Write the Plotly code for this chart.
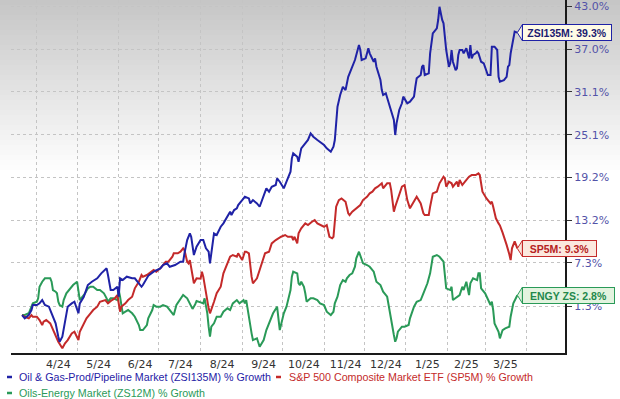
import pandas as pd
import plotly.graph_objects as go

# ---------------- data ----------------
START = "2024-03-21"  # day 0 of every series

zsi_days = [0, 2, 5, 7, 8, 11, 13, 15, 17, 20, 22, 25, 27, 28, 30, 32, 34, 37, 39, 42, 43, 46, 49, 52, 56, 59,
            63, 64, 66, 68, 71, 72, 73, 75, 78, 82, 84, 87, 89, 90, 94, 98, 100, 103, 105, 108, 110, 114, 118,
            120, 121, 123, 125, 126, 128, 130, 133, 135, 137, 139, 140, 141, 143, 145, 148, 150, 153, 155, 156,
            158, 160, 161, 164, 166, 169, 170, 172, 175, 177, 180, 182, 184, 186, 189, 190, 192, 195, 197, 200,
            201, 202, 205, 206, 208, 211, 213, 215, 217, 220, 222, 225, 227, 230, 232, 233, 235, 237, 239, 241,
            243, 246, 248, 251, 252, 253, 256, 258, 259, 262, 263, 264, 267, 268, 269, 271, 273, 275, 277, 278,
            279, 281, 283, 284, 287, 289, 292, 293, 294, 297, 298, 299, 300, 303, 304, 306, 309, 310, 311, 313,
            314, 316, 318, 319, 320, 321, 323, 324, 325, 326, 328, 329, 331, 333, 334, 335, 336, 338, 339, 340,
            342, 344, 345, 346, 347, 349, 350, 352, 354, 355, 356, 359, 361, 362, 363, 364, 366, 367, 369]
zsi_vals = [0.05, -0.41, 0.05, 0.74, 1.44, 1.44, 1.67, 2.13, 1.44, 1.21, 0.29, -1.10, -2.97, -3.66, -2.97,
            -0.65, 1.21, 1.67, 1.90, 0.29, 1.67, 2.59, 4.22, 4.68, 5.15, 5.84, 6.54, 5.61, 3.52, 3.52, 3.98,
            2.59, 5.15, 4.91, 5.38, 5.15, 5.15, 4.45, 3.98, 4.22, 5.50, 6.07, 6.30, 6.54, 7.00, 7.24, 6.76,
            7.00, 7.46, 7.46, 8.63, 10.47, 11.40, 10.93, 8.39, 9.54, 10.47, 10.47, 9.32, 8.85, 7.24, 8.85,
            11.40, 11.17, 12.32, 12.79, 13.71, 14.41, 13.95, 14.64, 14.88, 15.34, 16.03, 16.49, 16.26, 15.57,
            16.03, 15.57, 15.10, 16.73, 17.66, 17.19, 17.88, 18.12, 19.05, 18.58, 17.66, 18.58, 19.97, 21.83,
            22.52, 22.05, 21.36, 23.22, 23.91, 24.38, 25.30, 24.84, 24.38, 24.14, 23.68, 23.22, 22.75, 23.44,
            24.38, 29.00, 30.63, 31.78, 31.32, 33.17, 34.56, 35.50, 37.58, 36.89, 35.50, 35.73, 37.12, 36.43,
            35.26, 35.73, 34.56, 32.71, 31.32, 30.63, 30.87, 29.70, 28.55, 27.16, 25.07, 26.70, 28.55, 29.48,
            30.41, 29.48, 29.70, 30.41, 31.78, 32.96, 33.41, 34.56, 34.80, 33.41, 33.65, 36.43, 39.21, 39.90,
            41.06, 42.90, 41.06, 40.60, 36.89, 34.56, 35.03, 36.89, 35.26, 34.10, 34.33, 36.19, 36.89, 36.89,
            36.43, 37.12, 35.73, 37.58, 35.73, 36.19, 36.43, 36.66, 36.43, 35.26, 35.03, 34.56, 34.10, 33.41,
            33.41, 37.35, 37.35, 36.89, 33.17, 32.48, 32.71, 33.17, 34.56, 34.80, 36.43, 38.28, 39.44, 39.30]

sp5_days = [0, 2, 5, 7, 8, 11, 13, 15, 16, 18, 21, 23, 25, 27, 30, 32, 34, 37, 39, 42, 43, 46, 48, 51, 53, 56,
            58, 62, 64, 67, 69, 71, 73, 74, 77, 79, 82, 84, 87, 89, 90, 93, 95, 98, 100, 103, 105, 107, 109,
            112, 113, 115, 116, 118, 120, 121, 122, 123, 124, 125, 128, 130, 133, 134, 135, 136, 138, 139, 140,
            141, 143, 145, 148, 150, 153, 155, 157, 160, 161, 164, 166, 167, 169, 170, 171, 172, 175, 177, 180,
            181, 184, 186, 189, 191, 193, 196, 198, 201, 202, 203, 205, 206, 208, 211, 213, 216, 218, 220, 222,
            225, 227, 229, 231, 232, 234, 236, 238, 241, 243, 244, 246, 249, 252, 254, 257, 259, 261, 263, 265,
            268, 269, 272, 274, 275, 277, 278, 280, 283, 285, 287, 289, 292, 294, 297, 299, 300, 303, 304, 306,
            309, 311, 314, 315, 316, 318, 320, 321, 324, 325, 326, 328, 330, 333, 335, 338, 340, 341, 343, 346,
            349, 350, 351, 353, 355, 356, 358, 360, 361, 363, 364, 365, 366, 367, 369]
sp5_vals = [0.05, -0.19, -0.41, 0.05, -0.19, -0.19, -0.65, -1.34, -0.88, -0.65, -1.11, -2.04, -2.73, -3.66,
            -4.58, -3.89, -3.43, -2.50, -2.27, -3.43, -2.27, -1.11, -0.41, 0.29, 0.74, 1.21, 1.90, 2.13, 1.67,
            2.13, 2.36, 2.83, 0.51, 1.21, 1.67, 2.13, 2.59, 3.76, 4.68, 5.61, 5.38, 5.61, 5.84, 6.30, 6.07,
            6.54, 7.00, 7.46, 7.46, 8.15, 8.62, 8.62, 8.62, 8.85, 9.32, 9.08, 8.15, 7.46, 7.24, 7.69, 4.46,
            5.15, 5.10, 6.07, 5.38, 4.22, 2.13, 0.98, 0.28, 0.74, 1.90, 3.07, 3.98, 5.84, 7.24, 8.15, 8.39,
            8.15, 8.62, 7.69, 8.85, 8.85, 8.62, 6.76, 5.38, 4.46, 5.15, 6.30, 7.93, 8.62, 8.85, 10.00, 10.47,
            10.71, 10.93, 11.17, 10.93, 10.93, 10.47, 10.93, 10.00, 11.40, 12.10, 12.79, 12.56, 13.02, 13.25,
            12.79, 12.56, 12.32, 12.56, 10.93, 10.71, 10.93, 15.10, 16.03, 16.26, 15.80, 14.19, 13.95, 14.41,
            14.88, 15.34, 16.03, 16.49, 16.96, 17.19, 17.66, 17.89, 18.36, 17.66, 18.36, 18.36, 17.42, 14.41,
            15.10, 16.26, 17.89, 18.12, 16.03, 14.88, 15.80, 16.49, 15.57, 14.19, 13.95, 13.95, 15.10, 16.96,
            17.19, 18.36, 19.28, 19.05, 17.89, 18.58, 18.36, 17.89, 18.58, 17.89, 18.81, 18.12, 18.58, 19.28,
            19.51, 19.51, 19.75, 19.51, 17.19, 16.26, 15.57, 15.80, 15.10, 13.49, 12.79, 12.50, 11.50, 10.50,
            9.80, 8.50, 7.69, 9.32, 10.00, 10.30, 9.30]

engy_days = [0, 2, 5, 6, 7, 8, 11, 12, 13, 15, 17, 21, 22, 23, 25, 26, 27, 28, 30, 31, 33, 36, 38, 41, 42, 43,
             44, 47, 49, 51, 53, 56, 58, 61, 63, 64, 66, 68, 71, 72, 73, 74, 75, 77, 79, 82, 84, 87, 88, 90, 93,
             94, 97, 98, 100, 103, 105, 108, 110, 113, 115, 118, 120, 123, 125, 127, 129, 130, 133, 135, 136,
             138, 139, 140, 141, 143, 145, 148, 150, 153, 155, 157, 160, 162, 165, 166, 167, 169, 170, 171, 172,
             175, 177, 180, 182, 185, 187, 190, 191, 192, 195, 197, 200, 201, 202, 205, 206, 207, 208, 210, 211,
             212, 215, 217, 220, 222, 225, 227, 230, 232, 233, 235, 237, 239, 241, 242, 244, 246, 248, 249, 251,
             252, 254, 257, 259, 262, 264, 267, 269, 272, 274, 277, 278, 279, 280, 283, 285, 288, 289, 292, 294,
             297, 299, 302, 304, 306, 309, 311, 314, 316, 319, 320, 321, 324, 326, 328, 329, 331, 333, 334, 336,
             339, 340, 341, 342, 345, 347, 349, 350, 351, 352, 355, 356, 358, 360, 363, 364, 366, 369]
engy_vals = [0.05, 0.05, 0.29, 0.74, 1.21, 1.67, 1.90, 2.37, 3.98, 4.68, 5.15, 5.15, 4.68, 3.52, 3.29, 3.07,
             1.90, 1.44, 1.21, 2.13, 3.07, 3.76, 4.22, 4.68, 3.52, 2.13, 2.37, 3.07, 3.76, 3.98, 3.98, 3.52,
             3.52, 3.07, 2.37, 1.90, 2.37, 2.37, 2.13, 3.52, 2.59, 1.21, 0.29, 0.51, 0.74, 0.29, -0.19, -1.34,
             -2.04, -2.04, -1.34, -0.41, 0.74, 1.44, 1.21, 1.21, 1.44, 1.21, 0.74, 0.05, 1.44, 2.37, 2.83, 2.37,
             1.67, 0.90, 1.55, 2.00, 1.80, 1.67, 2.37, 0.29, -1.57, -2.97, -1.57, -1.10, -0.19, -0.19, 0.51,
             0.98, 0.74, 1.67, 2.13, 1.67, 2.13, 1.67, 2.13, -0.19, -1.80, -2.50, -3.43, -3.19, -4.36, -3.43,
             -2.04, -0.65, 0.29, 1.21, -0.19, -2.04, 0.29, 1.21, 3.52, 5.38, 6.07, 5.84, 4.46, 4.22, 4.68, 3.98,
             3.07, 1.90, 2.37, 2.37, 2.13, 1.67, 1.44, 0.51, 0.05, 0.51, 1.67, 2.59, 4.22, 4.91, 4.68, 5.15,
             5.61, 5.84, 6.76, 7.93, 8.85, 8.39, 7.24, 7.00, 6.76, 6.07, 4.68, 4.22, 3.29, 2.59, 0.29, -2.73,
             -3.66, -3.19, -2.27, -1.57, -1.57, -1.34, -0.41, 1.21, 1.90, 2.13, 3.07, 4.46, 5.84, 8.15, 8.39,
             8.15, 7.46, 3.76, 3.52, 3.98, 2.13, 2.59, 2.83, 3.98, 3.52, 4.68, 2.83, 4.46, 5.15, 4.91, 5.84,
             5.84, 3.76, 3.07, 2.13, 1.44, 1.90, 0.74, -1.11, -2.27, -3.19, -2.04, -1.80, -1.57, -0.19, 1.67,
             2.80]

y_ticks = [43.0, 37.0, 31.1, 25.1, 19.2, 13.2, 7.3, 1.3]
month_labels = ["4/24", "5/24", "6/24", "7/24", "8/24", "9/24", "10/24", "11/24", "12/24", "1/25", "2/25", "3/25"]
label_dates = ["2024-04-17", "2024-05-17", "2024-06-17", "2024-07-17", "2024-08-17", "2024-09-17",
               "2024-10-17", "2024-11-17", "2024-12-17", "2025-01-17", "2025-02-15", "2025-03-16"]
grid_dates = ["2024-04-01", "2024-05-01", "2024-06-01", "2024-07-01", "2024-08-01", "2024-09-01",
              "2024-10-01", "2024-11-01", "2024-12-01", "2025-01-01", "2025-02-01", "2025-03-01", "2025-04-01"]
x_range = ["2024-03-12 18:00", "2025-04-29 12:00"]
y_range = [-5.23, 43.84]

series = [
    dict(days=engy_days, vals=engy_vals, tag="ENGY ZS", color="#2a9a58", text="#23884c",
         fill="#e3f3df", legend="Oils-Energy Market (ZS12M) % Growth", tagw=89),
    dict(days=sp5_days, vals=sp5_vals, tag="SP5M", color="#c42a2a", text="#b52222",
         fill="#fbe8de", legend="S&P 500 Composite Market ETF (SP5M) % Growth", tagw=71),
    dict(days=zsi_days, vals=zsi_vals, tag="ZSI135M", color="#1f22a6", text="#1a1a70",
         fill="#fffbe6", legend="Oil & Gas-Prod/Pipeline Market (ZSI135M) % Growth", tagw=86),
]

# ---------------- layout geometry ----------------
W, H = 620, 399
L, R, T, B = 11, 55, 0, 46
PW, PH = W - L - R, H - T - B


def px_x(px):
    return (px - L) / PW


def px_y(py):
    return (T + PH - py) / PH


def to_dates(days):
    return pd.Timestamp(START) + pd.to_timedelta(days, unit="D")


fig = go.Figure()
shapes = []
annotations = []

# background gradient (grey at top fading to white)
steps = 34
for i in range(steps):
    p0 = i * 5
    p1 = p0 + 5
    g = int(round(198 + (255 - 198) * (i / steps)))
    shapes.append(dict(type="rect", xref="paper", yref="paper", x0=-0.05, x1=1.2,
                       y0=px_y(p1), y1=px_y(p0), fillcolor=f"rgb({g},{g},{g})",
                       line=dict(width=0), layer="below"))

for s in series:
    d = to_dates(s["days"])
    fig.add_trace(go.Scatter(x=d, y=s["vals"], mode="lines", showlegend=False,
                             line=dict(color=s["color"], width=2), hoverinfo="skip"))
    last_d = d[-1].strftime("%Y-%m-%d %H:%M")
    last_v = s["vals"][-1]
    # pointed tip of the tag
    shapes.append(dict(type="path", xref="x", yref="y", xsizemode="pixel", ysizemode="pixel",
                       xanchor=last_d, yanchor=last_v, path="M0,0 L5,8 L5,-8 Z",
                       fillcolor=s["fill"], line=dict(color=s["color"], width=1), layer="above"))
    annotations.append(dict(x=last_d, y=last_v, xref="x", yref="y", xanchor="left", yanchor="middle",
                            xshift=5, showarrow=False, text=f"{s['tag']}: {last_v:.1f}%",
                            font=dict(family="Liberation Sans", size=10.5, color=s["text"], weight="bold"),
                            bgcolor=s["fill"], bordercolor=s["color"], borderwidth=1, borderpad=1,
                            width=s["tagw"], height=13, align="center"))

# legend drawn as text
legend_items = [
    (series[2], 7, 17, 377),
    (series[1], 276, 287, 377),
    (series[0], 7, 17, 393),
]
for s, dash_x, text_x, row_y in legend_items:
    shapes.append(dict(type="line", xref="paper", yref="paper", x0=px_x(dash_x), x1=px_x(dash_x + 5),
                       y0=px_y(row_y), y1=px_y(row_y), line=dict(color=s["color"], width=2.5)))
    annotations.append(dict(x=px_x(text_x), y=px_y(row_y), xref="paper", yref="paper", xanchor="left",
                            yanchor="middle", showarrow=False, text=s["legend"],
                            font=dict(family="Liberation Sans", size=10.7, color=s["color"])))

fig.update_layout(
    width=W, height=H,
    margin=dict(l=L, r=R, t=T, b=B),
    paper_bgcolor="white", plot_bgcolor="rgba(0,0,0,0)",
    showlegend=False,
    shapes=shapes, annotations=annotations,
    xaxis=dict(type="date", range=x_range, tickmode="array", tickvals=label_dates, ticktext=month_labels,
               showgrid=False, ticks="", showline=True, linecolor="#1a1a1a", linewidth=2,
               tickfont=dict(family="DejaVu Sans", size=11, color="#333333"), zeroline=False,
               ticklabelstandoff=0,
               minor=dict(tickmode="array", tickvals=grid_dates, showgrid=True, gridcolor="#c4c4c4",
                          griddash="dot", gridwidth=1, ticks="")),
    yaxis=dict(range=y_range, side="right", tickmode="array", tickvals=y_ticks,
               ticktext=[f"{v:.1f}%" for v in y_ticks], showgrid=True, gridcolor="#c4c4c4",
               griddash="dot", gridwidth=1, showline=True, linecolor="#1a1a1a", linewidth=2,
               ticks="outside", ticklen=5, tickcolor="#333333", tickwidth=1, zeroline=False,
               ticklabeloverflow="allow",
               tickfont=dict(family="DejaVu Sans", size=11, color="#5353a8")),
)

fig.write_html("out.html", config={"displayModeBar": False},
               post_script="document.body.style.margin='0px';document.body.style.overflow='hidden';")
